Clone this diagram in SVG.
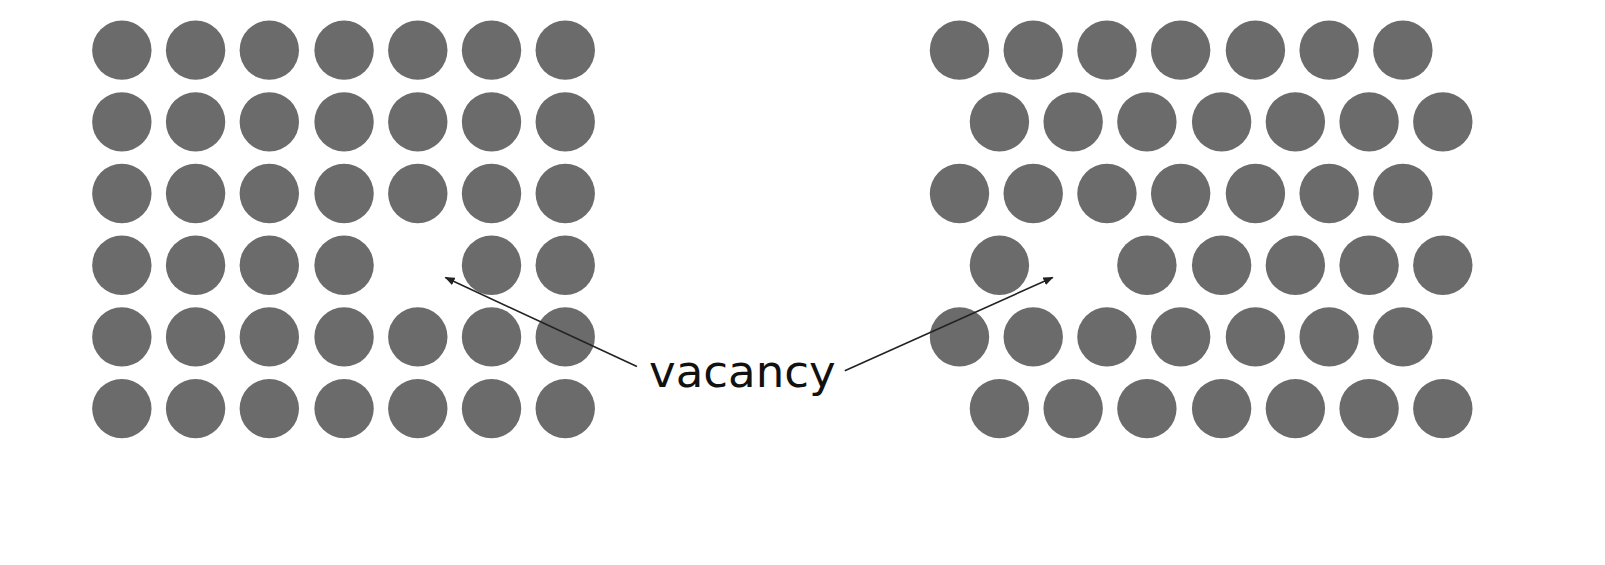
<svg xmlns="http://www.w3.org/2000/svg" width="1605" height="565" viewBox="0 0 1605 565">
<style>.a{fill:#6b6b6b}.c{stroke:#222;stroke-width:1.6;fill:none;marker-end:url(#m)}.t{font-family:"DejaVu Sans",sans-serif;font-size:44px;fill:#111}</style>
<defs><marker id="m" markerWidth="10" markerHeight="8" refX="9" refY="4" orient="auto" markerUnits="userSpaceOnUse"><path d="M0,0 L10,4 L0,8 Z" fill="#222"/></marker>
<circle id="b" r="29"/></defs>
<rect width="1605" height="565" fill="#fff"/>
<g transform="scale(1.024)">
<g id="left" class="a">
<g id="L1"><use href="#b" x="119" y="49"/><use href="#b" x="191" y="49"/><use href="#b" x="263" y="49"/><use href="#b" x="336" y="49"/><use href="#b" x="408" y="49"/><use href="#b" x="480" y="49"/><use href="#b" x="552" y="49"/></g>
<g id="L2"><use href="#b" x="119" y="119"/><use href="#b" x="191" y="119"/><use href="#b" x="263" y="119"/><use href="#b" x="336" y="119"/><use href="#b" x="408" y="119"/><use href="#b" x="480" y="119"/><use href="#b" x="552" y="119"/></g>
<g id="L3"><use href="#b" x="119" y="189"/><use href="#b" x="191" y="189"/><use href="#b" x="263" y="189"/><use href="#b" x="336" y="189"/><use href="#b" x="408" y="189"/><use href="#b" x="480" y="189"/><use href="#b" x="552" y="189"/></g>
<g id="L4"><use href="#b" x="119" y="259"/><use href="#b" x="191" y="259"/><use href="#b" x="263" y="259"/><use href="#b" x="336" y="259"/><use href="#b" x="480" y="259"/><use href="#b" x="552" y="259"/></g>
<g id="L5"><use href="#b" x="119" y="329"/><use href="#b" x="191" y="329"/><use href="#b" x="263" y="329"/><use href="#b" x="336" y="329"/><use href="#b" x="408" y="329"/><use href="#b" x="480" y="329"/><use href="#b" x="552" y="329"/></g>
<g id="L6"><use href="#b" x="119" y="399"/><use href="#b" x="191" y="399"/><use href="#b" x="263" y="399"/><use href="#b" x="336" y="399"/><use href="#b" x="408" y="399"/><use href="#b" x="480" y="399"/><use href="#b" x="552" y="399"/></g>
</g>
<g id="right" class="a">
<g id="R1"><use href="#b" x="937" y="49"/><use href="#b" x="1009" y="49"/><use href="#b" x="1081" y="49"/><use href="#b" x="1153" y="49"/><use href="#b" x="1226" y="49"/><use href="#b" x="1298" y="49"/><use href="#b" x="1370" y="49"/></g>
<g id="R2"><use href="#b" x="976" y="119"/><use href="#b" x="1048" y="119"/><use href="#b" x="1120" y="119"/><use href="#b" x="1193" y="119"/><use href="#b" x="1265" y="119"/><use href="#b" x="1337" y="119"/><use href="#b" x="1409" y="119"/></g>
<g id="R3"><use href="#b" x="937" y="189"/><use href="#b" x="1009" y="189"/><use href="#b" x="1081" y="189"/><use href="#b" x="1153" y="189"/><use href="#b" x="1226" y="189"/><use href="#b" x="1298" y="189"/><use href="#b" x="1370" y="189"/></g>
<g id="R4"><use href="#b" x="976" y="259"/><use href="#b" x="1120" y="259"/><use href="#b" x="1193" y="259"/><use href="#b" x="1265" y="259"/><use href="#b" x="1337" y="259"/><use href="#b" x="1409" y="259"/></g>
<g id="R5"><use href="#b" x="937" y="329"/><use href="#b" x="1009" y="329"/><use href="#b" x="1081" y="329"/><use href="#b" x="1153" y="329"/><use href="#b" x="1226" y="329"/><use href="#b" x="1298" y="329"/><use href="#b" x="1370" y="329"/></g>
<g id="R6"><use href="#b" x="976" y="399"/><use href="#b" x="1048" y="399"/><use href="#b" x="1120" y="399"/><use href="#b" x="1193" y="399"/><use href="#b" x="1265" y="399"/><use href="#b" x="1337" y="399"/><use href="#b" x="1409" y="399"/></g>
</g>
<g id="connectors"><line class="c" x1="622" y1="358" x2="435" y2="271"/><line class="c" x1="825" y1="362" x2="1028" y2="271"/></g>
<g id="label"><text class="t" x="725" y="378" text-anchor="middle">vacancy</text></g>
</g>
</svg>
